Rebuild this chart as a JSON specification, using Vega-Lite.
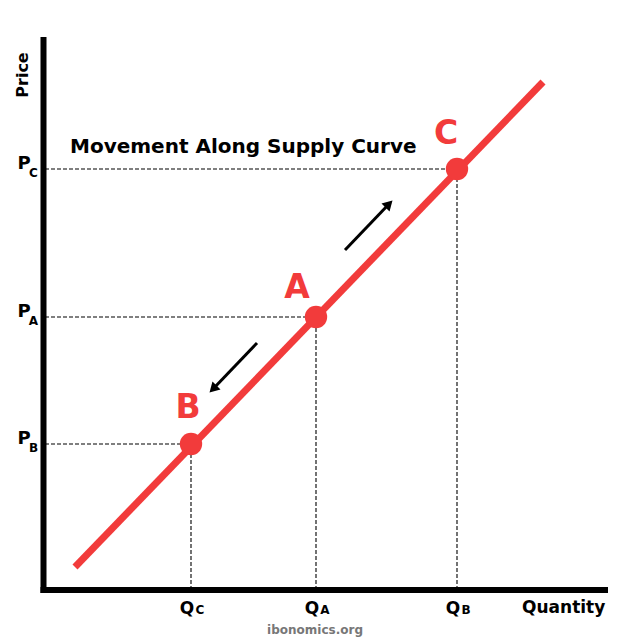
{
  "$schema": "https://vega.github.io/schema/vega-lite/v6.json",
  "width": 640,
  "height": 640,
  "autosize": {"type": "fit", "contains": "padding"},
  "padding": 0,
  "background": "white",
  "config": {"view": {"stroke": null}},
  "datasets": {
    "axes": [
      {"x1": -0.15, "y1": 0, "x2": -0.15, "y2": 55},
      {"x1": -0.15, "y1": 0, "x2": 56, "y2": 0}
    ],
    "dashes": [
      {"x1": 0, "y1": 27.3, "x2": 27.1, "y2": 27.3},
      {"x1": 27.1, "y1": 0, "x2": 27.1, "y2": 27.3},
      {"x1": 0, "y1": 14.6, "x2": 14.6, "y2": 14.6},
      {"x1": 14.6, "y1": 0, "x2": 14.6, "y2": 14.6},
      {"x1": 0, "y1": 42.1, "x2": 41.2, "y2": 42.1},
      {"x1": 41.2, "y1": 0, "x2": 41.2, "y2": 42.1}
    ],
    "supply": [
      {"q": 3.0, "p": 2.3},
      {"q": 49.8, "p": 50.8}
    ],
    "points": [
      {"label": "A", "q": 27.1, "p": 27.3, "lq": 25.2, "lp": 30.2},
      {"label": "B", "q": 14.6, "p": 14.6, "lq": 14.3, "lp": 18.2},
      {"label": "C", "q": 41.2, "p": 42.1, "lq": 40.1, "lp": 45.6}
    ],
    "plabels": [
      {"main": "P", "sub": "C", "x": -2.1, "xs": -1.15, "v": 42.1},
      {"main": "P", "sub": "A", "x": -2.1, "xs": -1.15, "v": 27.3},
      {"main": "P", "sub": "B", "x": -2.1, "xs": -1.15, "v": 14.6}
    ],
    "qlabels": [
      {"main": "Q", "sub": "C", "v": 14.6, "y": -1.9},
      {"main": "Q", "sub": "A", "v": 27.1, "y": -1.9},
      {"main": "Q", "sub": "B", "v": 41.2, "y": -1.9}
    ],
    "arrows": [
      {"x1": 30.0, "y1": 34.0, "x2": 34.4, "y2": 38.6, "angle": 45},
      {"x1": 21.2, "y1": 24.7, "x2": 16.8, "y2": 20.1, "angle": 225}
    ],
    "title": [
      {"t": "Movement Along Supply Curve", "x": 2.5, "y": 44.3}
    ],
    "axtitles": [
      {"t": "Quantity", "x": 47.7, "y": -1.75}
    ]
  },
  "layer": [
    {
      "data": {"name": "dashes"},
      "mark": {"type": "rule", "strokeWidth": 1.1, "strokeDash": [4, 2], "color": "#000"},
      "encoding": {
        "x": {"field": "x1", "type": "quantitative", "scale": {"domain": [-4.5, 59.5], "nice": false, "zero": false}, "axis": null},
        "y": {"field": "y1", "type": "quantitative", "scale": {"domain": [-5, 59], "nice": false, "zero": false}, "axis": null},
        "x2": {"field": "x2"},
        "y2": {"field": "y2"}
      }
    },
    {
      "data": {"name": "axes"},
      "mark": {"type": "rule", "strokeWidth": 6, "color": "#000", "strokeCap": "square"},
      "encoding": {
        "x": {"field": "x1", "type": "quantitative"},
        "y": {"field": "y1", "type": "quantitative"},
        "x2": {"field": "x2"},
        "y2": {"field": "y2"}
      }
    },
    {
      "data": {"name": "supply"},
      "mark": {"type": "line", "strokeWidth": 7, "color": "#f23b3b"},
      "encoding": {
        "x": {"field": "q", "type": "quantitative"},
        "y": {"field": "p", "type": "quantitative"}
      }
    },
    {
      "data": {"name": "points"},
      "mark": {"type": "point", "filled": true, "size": 500, "color": "#f23b3b", "opacity": 1},
      "encoding": {
        "x": {"field": "q", "type": "quantitative"},
        "y": {"field": "p", "type": "quantitative"}
      }
    },
    {
      "data": {"name": "points"},
      "mark": {"type": "text", "fontSize": 33, "fontWeight": "bold", "font": "DejaVu Sans", "color": "#f23b3b", "baseline": "middle", "align": "center"},
      "encoding": {
        "x": {"field": "lq", "type": "quantitative"},
        "y": {"field": "lp", "type": "quantitative"},
        "text": {"field": "label"}
      }
    },
    {
      "data": {"name": "arrows"},
      "mark": {"type": "rule", "strokeWidth": 3, "color": "#000"},
      "encoding": {
        "x": {"field": "x1", "type": "quantitative"},
        "y": {"field": "y1", "type": "quantitative"},
        "x2": {"field": "x2"},
        "y2": {"field": "y2"}
      }
    },
    {
      "data": {"name": "arrows"},
      "mark": {"type": "point", "shape": "triangle-up", "filled": true, "size": 130, "color": "#000", "opacity": 1},
      "encoding": {
        "x": {"field": "x2", "type": "quantitative"},
        "y": {"field": "y2", "type": "quantitative"},
        "angle": {"field": "angle", "type": "quantitative", "scale": null}
      }
    },
    {
      "data": {"name": "plabels"},
      "mark": {"type": "text", "fontSize": 18, "fontWeight": "bold", "font": "DejaVu Sans", "color": "#000", "baseline": "middle", "align": "center", "dy": -5},
      "encoding": {
        "x": {"field": "x", "type": "quantitative"},
        "y": {"field": "v", "type": "quantitative"},
        "text": {"field": "main"}
      }
    },
    {
      "data": {"name": "plabels"},
      "mark": {"type": "text", "fontSize": 12, "fontWeight": "bold", "font": "DejaVu Sans", "color": "#000", "baseline": "middle", "align": "center", "dy": 4},
      "encoding": {
        "x": {"field": "xs", "type": "quantitative"},
        "y": {"field": "v", "type": "quantitative"},
        "text": {"field": "sub"}
      }
    },
    {
      "data": {"name": "qlabels"},
      "mark": {"type": "text", "fontSize": 17, "fontWeight": "bold", "font": "DejaVu Sans", "color": "#000", "baseline": "middle", "align": "center", "dx": -4},
      "encoding": {
        "x": {"field": "v", "type": "quantitative"},
        "y": {"field": "y", "type": "quantitative"},
        "text": {"field": "main"}
      }
    },
    {
      "data": {"name": "qlabels"},
      "mark": {"type": "text", "fontSize": 12, "fontWeight": "bold", "font": "DejaVu Sans", "color": "#000", "baseline": "middle", "align": "center", "dx": 9, "dy": 1},
      "encoding": {
        "x": {"field": "v", "type": "quantitative"},
        "y": {"field": "y", "type": "quantitative"},
        "text": {"field": "sub"}
      }
    },
    {
      "data": {"name": "title"},
      "mark": {"type": "text", "fontSize": 20, "fontWeight": "bold", "font": "DejaVu Sans", "color": "#000", "baseline": "middle", "align": "left"},
      "encoding": {
        "x": {"field": "x", "type": "quantitative"},
        "y": {"field": "y", "type": "quantitative"},
        "text": {"field": "t"}
      }
    },
    {
      "data": {"name": "axtitles"},
      "mark": {"type": "text", "fontSize": 17, "fontWeight": "bold", "font": "DejaVu Sans", "color": "#000", "baseline": "middle", "align": "left"},
      "encoding": {
        "x": {"field": "x", "type": "quantitative"},
        "y": {"field": "y", "type": "quantitative"},
        "text": {"field": "t"}
      }
    },
    {
      "data": {"values": [{"t": "Price", "x": -2.2, "y": 51.5}]},
      "mark": {"type": "text", "fontSize": 16, "fontWeight": "bold", "font": "DejaVu Sans", "color": "#000", "baseline": "middle", "align": "center", "angle": 270},
      "encoding": {
        "x": {"field": "x", "type": "quantitative"},
        "y": {"field": "y", "type": "quantitative"},
        "text": {"field": "t"}
      }
    },
    {
      "data": {"values": [{"t": "ibonomics.org", "x": 27.0, "y": -3.95}]},
      "mark": {"type": "text", "fontSize": 12, "fontWeight": "bold", "font": "DejaVu Sans", "color": "#777", "baseline": "middle", "align": "center"},
      "encoding": {
        "x": {"field": "x", "type": "quantitative"},
        "y": {"field": "y", "type": "quantitative"},
        "text": {"field": "t"}
      }
    }
  ]
}
